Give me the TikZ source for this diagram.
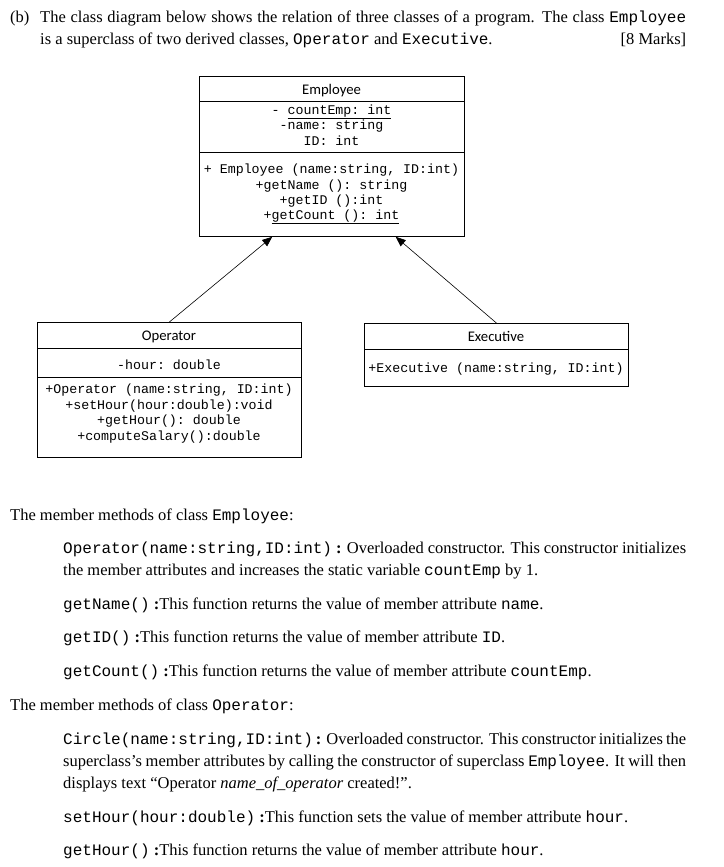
\documentclass[tikz,border=0pt]{standalone}
\usepackage{fontspec}
\setmainfont{Liberation Serif}
\setmonofont{Liberation Mono}[Scale=0.97]
\newfontfamily\titlefont{Carlito}
\usetikzlibrary{arrows.meta,calc}
\tikzset{
  x=1pt,y=-1pt,
  classbox/.style={draw,line width=0.8pt,anchor=north west,inner sep=0pt,minimum width=#1},
  cell/.style={anchor=base,inner sep=0pt,font=\fontsize{13.7}{15}\ttfamily},
  ctitle/.style={anchor=base,inner sep=0pt,font=\fontsize{14.7}{16}\titlefont},
  para/.style={anchor=base west,inner sep=0pt,font=\fontsize{16.5}{22}\selectfont},
  inherit/.style={-{Triangle[length=10pt,width=8pt]},line width=0.6pt},
  divider/.style={line width=0.8pt}
}
\newcommand{\ulx}[1]{\underline{#1}}
\newcommand{\sep}{ \textbf{:}}
\begin{document}
\begin{tikzpicture}
\useasboundingbox[fill=white] (0,0) rectangle (723,867);
% header
\node[para] (hb) at (10,23) {(b)};
\node[para] (hdr) at (40,23) {\parbox[t]{646pt}{\fontsize{16.5}{22}\selectfont The class diagram below shows the relation of three classes of a program. The class \texttt{Employee}\linebreak is a superclass of two derived classes, \texttt{Operator} and \texttt{Executive}.\hfill[8 Marks]}};

% Employee box
\node[classbox=265pt,minimum height=160pt] (emp) at (199,76) {};
\draw[divider] (199,101) -- (464,101);
\draw[divider] (199,152) -- (464,152);
\node[ctitle] (empt) at (331.5,94) {Employee};
\node[cell] (ea1) at (331.5,114) {- \ulx{countEmp: int}};
\node[cell] (ea2) at (331.5,129.5) {-name: string};
\node[cell] (ea3) at (331.5,145) {ID: int};
\node[cell] (em1) at (331.5,173) {+ Employee (name:string, ID:int)};
\node[cell] (em2) at (331.5,189) {+getName (): string};
\node[cell] (em3) at (331.5,204) {+getID ():int};
\node[cell] (em4) at (331.5,219) {+\ulx{getCount (): int}};

% Operator box
\node[classbox=264pt,minimum height=135pt] (op) at (37,322) {};
\draw[divider] (37,348) -- (301,348);
\draw[divider] (37,377) -- (301,377);
\node[ctitle] (opt) at (169,340) {Operator};
\node[cell] (oa1) at (169,369) {-hour: double};
\node[cell] (om1) at (169,393) {+Operator (name:string, ID:int)};
\node[cell] (om2) at (169,409) {+setHour(hour:double):void};
\node[cell] (om3) at (169,424) {+getHour(): double};
\node[cell] (om4) at (169,440) {+computeSalary():double};

% Executive box
\node[classbox=264pt,minimum height=63pt] (ex) at (364,323) {};
\draw[divider] (364,349) -- (628,349);
\node[ctitle] (ext) at (496,341) {Executive};
\node[cell] (xm1) at (496,372) {+Executive (name:string, ID:int)};

% inheritance arrows
\coordinate (empL) at ($(emp.south west)!0.2755!(emp.south east)$);
\coordinate (empR) at ($(emp.south west)!0.74!(emp.south east)$);
\draw[inherit] (op.north) -- (empL);
\draw[inherit] (ex.north) -- (empR);

% description text
\node[para] (t1) at (10,520) {The member methods of class \texttt{Employee}:};
\node[para] (p1) at (63,553) {\parbox[t]{623pt}{\fontsize{16.5}{22}\selectfont\texttt{Operator(name:string,ID:int)}\sep{} Overloaded constructor. This constructor initializes\linebreak the member attributes and increases the static variable \texttt{countEmp} by 1.}};
\node[para] (p2) at (63,609) {\texttt{getName()}\sep This function returns the value of member attribute \texttt{name}.};
\node[para] (p3) at (63,642) {\texttt{getID()}\sep This function returns the value of member attribute \texttt{ID}.};
\node[para] (p4) at (63,676) {\texttt{getCount()}\sep This function returns the value of member attribute \texttt{countEmp}.};
\node[para] (t2) at (10,710) {The member methods of class \texttt{Operator}:};
\node[para] (p5) at (63,744) {\parbox[t]{623pt}{\fontsize{16.5}{22}\selectfont\texttt{Circle(name:string,ID:int)}\sep{} Overloaded constructor. This constructor initializes the\linebreak superclass's member attributes by calling the constructor of superclass \texttt{Employee}. It will then\linebreak displays text “Operator \emph{name\_of\_operator} created!”.}};
\node[para] (p6) at (63,822) {\texttt{setHour(hour:double)}\sep This function sets the value of member attribute \texttt{hour}.};
\node[para] (p7) at (63,855) {\texttt{getHour()}\sep This function returns the value of member attribute \texttt{hour}.};
\end{tikzpicture}
\end{document}
